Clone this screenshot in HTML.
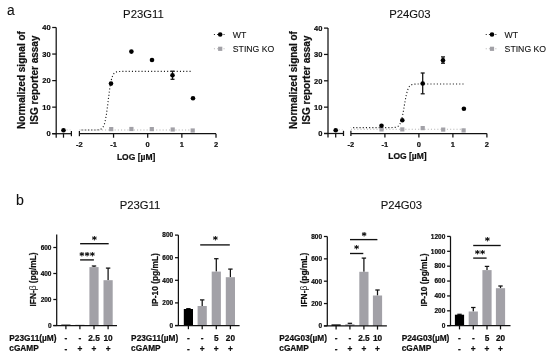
<!DOCTYPE html>
<html><head><meta charset="utf-8"><title>Figure</title>
<style>html,body{margin:0;padding:0;background:#fff;width:550px;height:362px;overflow:hidden}svg{display:block;filter:blur(0.25px)}text{stroke:#111;stroke-width:0.1px;stroke-linejoin:round}text[font-weight="bold"]{stroke:#000;stroke-width:0.2px}</style>
</head><body>
<svg width="550" height="362" viewBox="0 0 550 362" font-family='"Liberation Sans", Arial, sans-serif'>
<rect width="550" height="362" fill="#fff"/>
<text x="7.10" y="14.80" font-size="13.8" font-weight="normal" text-anchor="start" fill="#111" >a</text>
<text x="15.90" y="204.70" font-size="14.2" font-weight="normal" text-anchor="start" fill="#111" >b</text>
<line x1="56.20" y1="27.50" x2="56.20" y2="137.70" stroke="#111" stroke-width="1.25" />
<line x1="52.20" y1="133.70" x2="56.20" y2="133.70" stroke="#111" stroke-width="1.25" />
<text x="50.60" y="136.40" font-size="7.5" font-weight="bold" text-anchor="end" fill="#111" >0</text>
<line x1="52.20" y1="107.15" x2="56.20" y2="107.15" stroke="#111" stroke-width="1.25" />
<text x="50.60" y="109.85" font-size="7.5" font-weight="bold" text-anchor="end" fill="#111" >10</text>
<line x1="52.20" y1="80.60" x2="56.20" y2="80.60" stroke="#111" stroke-width="1.25" />
<text x="50.60" y="83.30" font-size="7.5" font-weight="bold" text-anchor="end" fill="#111" >20</text>
<line x1="52.20" y1="54.05" x2="56.20" y2="54.05" stroke="#111" stroke-width="1.25" />
<text x="50.60" y="56.75" font-size="7.5" font-weight="bold" text-anchor="end" fill="#111" >30</text>
<line x1="52.20" y1="27.50" x2="56.20" y2="27.50" stroke="#111" stroke-width="1.25" />
<text x="50.60" y="30.20" font-size="7.5" font-weight="bold" text-anchor="end" fill="#111" >40</text>
<line x1="52.20" y1="133.70" x2="71.40" y2="133.70" stroke="#111" stroke-width="1.25" />
<line x1="63.50" y1="133.70" x2="63.50" y2="137.70" stroke="#111" stroke-width="1.25" />
<line x1="71.40" y1="131.00" x2="71.40" y2="136.20" stroke="#111" stroke-width="1.25" />
<line x1="79.40" y1="133.70" x2="216.00" y2="133.70" stroke="#111" stroke-width="1.25" />
<line x1="79.40" y1="131.00" x2="79.40" y2="136.20" stroke="#111" stroke-width="1.25" />
<text x="79.40" y="147.30" font-size="7.5" font-weight="bold" text-anchor="middle" fill="#111" >-2</text>
<line x1="113.55" y1="133.70" x2="113.55" y2="137.70" stroke="#111" stroke-width="1.25" />
<text x="113.55" y="147.30" font-size="7.5" font-weight="bold" text-anchor="middle" fill="#111" >-1</text>
<line x1="147.70" y1="133.70" x2="147.70" y2="137.70" stroke="#111" stroke-width="1.25" />
<text x="147.70" y="147.30" font-size="7.5" font-weight="bold" text-anchor="middle" fill="#111" >0</text>
<line x1="181.85" y1="133.70" x2="181.85" y2="137.70" stroke="#111" stroke-width="1.25" />
<text x="181.85" y="147.30" font-size="7.5" font-weight="bold" text-anchor="middle" fill="#111" >1</text>
<line x1="216.00" y1="133.70" x2="216.00" y2="137.70" stroke="#111" stroke-width="1.25" />
<text x="216.00" y="147.30" font-size="7.5" font-weight="bold" text-anchor="middle" fill="#111" >2</text>
<text x="136.10" y="159.50" font-size="8.5" font-weight="bold" text-anchor="middle" fill="#111" >LOG [µM]</text>
<text transform="translate(25.00,80.00) rotate(-90)" font-size="10" font-weight="bold" text-anchor="middle" fill="#111">Normalized signal of</text>
<text transform="translate(38.00,80.00) rotate(-90)" font-size="10" font-weight="bold" text-anchor="middle" fill="#111">ISG reporter assay</text>
<text x="123.10" y="17.60" font-size="11.3" font-weight="normal" text-anchor="start" fill="#111" >P23G11</text>
<line x1="213.90" y1="34.5" x2="224.80" y2="34.5" stroke="#333" stroke-width="1.1" stroke-dasharray="1.1 2.1"/>
<circle cx="220.20" cy="34.50" r="2.3" fill="#000"/>
<line x1="213.90" y1="48.8" x2="224.80" y2="48.8" stroke="#bbb" stroke-width="1.1" stroke-dasharray="1.1 2.1"/>
<rect x="218.10" y="46.70" width="4.2" height="4.2" fill="#a2a1a7"/>
<text x="232.80" y="37.60" font-size="8.7" font-weight="normal" text-anchor="start" fill="#111" >WT</text>
<text x="232.80" y="51.80" font-size="8.7" font-weight="normal" text-anchor="start" fill="#111" >STING KO</text>
<line x1="79.40" y1="130.00" x2="191.00" y2="130.00" stroke="#b5b5b5" stroke-width="1.1" stroke-dasharray="1.1 2.1"/>
<path d="M79.40,130.00 L80.33,130.00 L81.26,130.00 L82.19,130.00 L83.12,130.00 L84.05,130.00 L84.98,130.00 L85.91,130.00 L86.84,130.00 L87.77,130.00 L88.70,130.00 L89.63,130.00 L90.56,130.00 L91.49,130.00 L92.42,129.99 L93.35,129.99 L94.28,129.98 L95.21,129.97 L96.14,129.94 L97.07,129.90 L98.00,129.83 L98.93,129.71 L99.86,129.51 L100.79,129.16 L101.72,128.59 L102.65,127.64 L103.58,126.10 L104.51,123.66 L105.44,119.97 L106.37,114.76 L107.30,108.07 L108.23,100.45 L109.16,92.86 L110.09,86.26 L111.02,81.15 L111.95,77.55 L112.88,75.18 L113.81,73.68 L114.74,72.76 L115.67,72.21 L116.60,71.88 L117.53,71.68 L118.46,71.57 L119.39,71.50 L120.32,71.46 L121.25,71.43 L122.18,71.42 L123.11,71.41 L124.04,71.41 L124.97,71.40 L125.90,71.40 L126.83,71.40 L127.76,71.40 L128.69,71.40 L129.62,71.40 L130.55,71.40 L131.48,71.40 L132.41,71.40 L133.34,71.40 L134.27,71.40 L135.20,71.40 L136.13,71.40 L137.06,71.40 L137.99,71.40 L138.92,71.40 L139.85,71.40 L140.78,71.40 L141.71,71.40 L142.64,71.40 L143.57,71.40 L144.50,71.40 L145.43,71.40 L146.36,71.40 L147.29,71.40 L148.22,71.40 L149.15,71.40 L150.08,71.40 L151.01,71.40 L151.94,71.40 L152.87,71.40 L153.80,71.40 L154.73,71.40 L155.66,71.40 L156.59,71.40 L157.52,71.40 L158.45,71.40 L159.38,71.40 L160.31,71.40 L161.24,71.40 L162.17,71.40 L163.10,71.40 L164.03,71.40 L164.96,71.40 L165.89,71.40 L166.82,71.40 L167.75,71.40 L168.68,71.40 L169.61,71.40 L170.54,71.40 L171.47,71.40 L172.40,71.40 L173.33,71.40 L174.26,71.40 L175.19,71.40 L176.12,71.40 L177.05,71.40 L177.98,71.40 L178.91,71.40 L179.84,71.40 L180.77,71.40 L181.70,71.40 L182.63,71.40 L183.56,71.40 L184.49,71.40 L185.42,71.40 L186.35,71.40 L187.28,71.40 L188.21,71.40 L189.14,71.40 L190.07,71.40 L191.00,71.40" fill="none" stroke="#222" stroke-width="1.15" stroke-dasharray="1.1 2.1" stroke-dashoffset="1.1"/>
<rect x="109.10" y="127.00" width="4.2" height="4.2" fill="#a2a1a7"/>
<rect x="129.30" y="126.90" width="4.2" height="4.2" fill="#a2a1a7"/>
<rect x="149.70" y="127.00" width="4.2" height="4.2" fill="#a2a1a7"/>
<rect x="170.60" y="127.40" width="4.2" height="4.2" fill="#a2a1a7"/>
<rect x="190.60" y="128.40" width="4.2" height="4.2" fill="#a2a1a7"/>
<line x1="172.50" y1="71.20" x2="172.50" y2="79.30" stroke="#111" stroke-width="1.25" />
<line x1="170.50" y1="71.20" x2="174.50" y2="71.20" stroke="#111" stroke-width="1.25" />
<line x1="170.50" y1="79.30" x2="174.50" y2="79.30" stroke="#111" stroke-width="1.25" />
<circle cx="111.00" cy="83.60" r="2.3" fill="#000"/>
<circle cx="131.40" cy="51.60" r="2.3" fill="#000"/>
<circle cx="152.00" cy="60.00" r="2.3" fill="#000"/>
<circle cx="172.50" cy="75.20" r="2.3" fill="#000"/>
<circle cx="193.00" cy="98.30" r="2.3" fill="#000"/>
<line x1="66.50" y1="129.90" x2="70.40" y2="129.90" stroke="#ccc" stroke-width="1.1" stroke-dasharray="1.1 2.1"/>
<circle cx="63.50" cy="130.30" r="2.3" fill="#000"/>
<line x1="328.00" y1="28.10" x2="328.00" y2="137.50" stroke="#111" stroke-width="1.25" />
<line x1="324.00" y1="133.50" x2="328.00" y2="133.50" stroke="#111" stroke-width="1.25" />
<text x="322.40" y="136.20" font-size="7.5" font-weight="bold" text-anchor="end" fill="#111" >0</text>
<line x1="324.00" y1="107.15" x2="328.00" y2="107.15" stroke="#111" stroke-width="1.25" />
<text x="322.40" y="109.85" font-size="7.5" font-weight="bold" text-anchor="end" fill="#111" >10</text>
<line x1="324.00" y1="80.80" x2="328.00" y2="80.80" stroke="#111" stroke-width="1.25" />
<text x="322.40" y="83.50" font-size="7.5" font-weight="bold" text-anchor="end" fill="#111" >20</text>
<line x1="324.00" y1="54.45" x2="328.00" y2="54.45" stroke="#111" stroke-width="1.25" />
<text x="322.40" y="57.15" font-size="7.5" font-weight="bold" text-anchor="end" fill="#111" >30</text>
<line x1="324.00" y1="28.10" x2="328.00" y2="28.10" stroke="#111" stroke-width="1.25" />
<text x="322.40" y="30.80" font-size="7.5" font-weight="bold" text-anchor="end" fill="#111" >40</text>
<line x1="324.00" y1="133.50" x2="343.50" y2="133.50" stroke="#111" stroke-width="1.25" />
<line x1="335.70" y1="133.50" x2="335.70" y2="137.50" stroke="#111" stroke-width="1.25" />
<line x1="343.50" y1="130.80" x2="343.50" y2="136.00" stroke="#111" stroke-width="1.25" />
<line x1="350.90" y1="133.50" x2="486.90" y2="133.50" stroke="#111" stroke-width="1.25" />
<line x1="350.90" y1="130.80" x2="350.90" y2="136.00" stroke="#111" stroke-width="1.25" />
<text x="350.90" y="147.10" font-size="7.5" font-weight="bold" text-anchor="middle" fill="#111" >-2</text>
<line x1="384.90" y1="133.50" x2="384.90" y2="137.50" stroke="#111" stroke-width="1.25" />
<text x="384.90" y="147.10" font-size="7.5" font-weight="bold" text-anchor="middle" fill="#111" >-1</text>
<line x1="418.90" y1="133.50" x2="418.90" y2="137.50" stroke="#111" stroke-width="1.25" />
<text x="418.90" y="147.10" font-size="7.5" font-weight="bold" text-anchor="middle" fill="#111" >0</text>
<line x1="452.90" y1="133.50" x2="452.90" y2="137.50" stroke="#111" stroke-width="1.25" />
<text x="452.90" y="147.10" font-size="7.5" font-weight="bold" text-anchor="middle" fill="#111" >1</text>
<line x1="486.90" y1="133.50" x2="486.90" y2="137.50" stroke="#111" stroke-width="1.25" />
<text x="486.90" y="147.10" font-size="7.5" font-weight="bold" text-anchor="middle" fill="#111" >2</text>
<text x="407.45" y="159.30" font-size="8.5" font-weight="bold" text-anchor="middle" fill="#111" >LOG [µM]</text>
<text transform="translate(296.80,80.00) rotate(-90)" font-size="10" font-weight="bold" text-anchor="middle" fill="#111">Normalized signal of</text>
<text transform="translate(309.80,80.00) rotate(-90)" font-size="10" font-weight="bold" text-anchor="middle" fill="#111">ISG reporter assay</text>
<text x="389.20" y="17.60" font-size="11.3" font-weight="normal" text-anchor="start" fill="#111" >P24G03</text>
<line x1="485.70" y1="34.5" x2="496.60" y2="34.5" stroke="#333" stroke-width="1.1" stroke-dasharray="1.1 2.1"/>
<circle cx="492.00" cy="34.50" r="2.3" fill="#000"/>
<line x1="485.70" y1="48.8" x2="496.60" y2="48.8" stroke="#bbb" stroke-width="1.1" stroke-dasharray="1.1 2.1"/>
<rect x="489.90" y="46.70" width="4.2" height="4.2" fill="#a2a1a7"/>
<text x="504.60" y="37.60" font-size="8.7" font-weight="normal" text-anchor="start" fill="#111" >WT</text>
<text x="504.60" y="51.80" font-size="8.7" font-weight="normal" text-anchor="start" fill="#111" >STING KO</text>
<line x1="350.90" y1="129.30" x2="464.20" y2="129.30" stroke="#b5b5b5" stroke-width="1.1" stroke-dasharray="1.1 2.1"/>
<path d="M350.90,127.60 L351.84,127.60 L352.79,127.60 L353.73,127.60 L354.68,127.60 L355.62,127.60 L356.56,127.60 L357.51,127.60 L358.45,127.60 L359.40,127.60 L360.34,127.60 L361.29,127.60 L362.23,127.60 L363.17,127.60 L364.12,127.60 L365.06,127.60 L366.01,127.60 L366.95,127.60 L367.89,127.60 L368.84,127.60 L369.78,127.60 L370.73,127.60 L371.67,127.60 L372.62,127.60 L373.56,127.60 L374.50,127.60 L375.45,127.60 L376.39,127.60 L377.34,127.60 L378.28,127.60 L379.22,127.60 L380.17,127.60 L381.11,127.60 L382.06,127.60 L383.00,127.60 L383.95,127.60 L384.89,127.60 L385.83,127.60 L386.78,127.60 L387.72,127.60 L388.67,127.59 L389.61,127.59 L390.55,127.58 L391.50,127.56 L392.44,127.54 L393.39,127.50 L394.33,127.43 L395.28,127.31 L396.22,127.12 L397.16,126.79 L398.11,126.25 L399.05,125.36 L400.00,123.94 L400.94,121.76 L401.88,118.56 L402.83,114.24 L403.77,108.97 L404.72,103.28 L405.66,97.93 L406.61,93.48 L407.55,90.16 L408.49,87.87 L409.44,86.37 L410.38,85.44 L411.33,84.86 L412.27,84.51 L413.21,84.31 L414.16,84.18 L415.10,84.11 L416.05,84.06 L416.99,84.04 L417.94,84.02 L418.88,84.01 L419.82,84.01 L420.77,84.00 L421.71,84.00 L422.66,84.00 L423.60,84.00 L424.54,84.00 L425.49,84.00 L426.43,84.00 L427.38,84.00 L428.32,84.00 L429.27,84.00 L430.21,84.00 L431.15,84.00 L432.10,84.00 L433.04,84.00 L433.99,84.00 L434.93,84.00 L435.88,84.00 L436.82,84.00 L437.76,84.00 L438.71,84.00 L439.65,84.00 L440.60,84.00 L441.54,84.00 L442.48,84.00 L443.43,84.00 L444.37,84.00 L445.32,84.00 L446.26,84.00 L447.20,84.00 L448.15,84.00 L449.09,84.00 L450.04,84.00 L450.98,84.00 L451.93,84.00 L452.87,84.00 L453.81,84.00 L454.76,84.00 L455.70,84.00 L456.65,84.00 L457.59,84.00 L458.53,84.00 L459.48,84.00 L460.42,84.00 L461.37,84.00 L462.31,84.00 L463.26,84.00 L464.20,84.00" fill="none" stroke="#222" stroke-width="1.15" stroke-dasharray="1.1 2.1" stroke-dashoffset="1.0"/>
<rect x="379.40" y="127.30" width="4.2" height="4.2" fill="#a2a1a7"/>
<rect x="400.20" y="127.30" width="4.2" height="4.2" fill="#a2a1a7"/>
<rect x="420.60" y="126.00" width="4.2" height="4.2" fill="#a2a1a7"/>
<rect x="441.10" y="127.50" width="4.2" height="4.2" fill="#a2a1a7"/>
<rect x="461.50" y="128.30" width="4.2" height="4.2" fill="#a2a1a7"/>
<line x1="422.70" y1="73.00" x2="422.70" y2="93.80" stroke="#111" stroke-width="1.25" />
<line x1="420.70" y1="73.00" x2="424.70" y2="73.00" stroke="#111" stroke-width="1.25" />
<line x1="420.70" y1="93.80" x2="424.70" y2="93.80" stroke="#111" stroke-width="1.25" />
<line x1="443.00" y1="56.90" x2="443.00" y2="63.20" stroke="#111" stroke-width="1.25" />
<line x1="441.00" y1="56.90" x2="445.00" y2="56.90" stroke="#111" stroke-width="1.25" />
<line x1="441.00" y1="63.20" x2="445.00" y2="63.20" stroke="#111" stroke-width="1.25" />
<circle cx="381.50" cy="125.80" r="2.3" fill="#000"/>
<circle cx="402.30" cy="120.20" r="2.3" fill="#000"/>
<circle cx="422.70" cy="83.50" r="2.3" fill="#000"/>
<circle cx="443.00" cy="60.20" r="2.3" fill="#000"/>
<circle cx="463.90" cy="108.80" r="2.3" fill="#000"/>
<line x1="338.70" y1="129.80" x2="342.50" y2="129.80" stroke="#ccc" stroke-width="1.1" stroke-dasharray="1.1 2.1"/>
<circle cx="335.70" cy="130.20" r="2.3" fill="#000"/>
<text x="119.70" y="208.60" font-size="11.3" font-weight="normal" text-anchor="start" fill="#111" >P23G11</text>
<text x="380.70" y="208.60" font-size="11.3" font-weight="normal" text-anchor="start" fill="#111" >P24G03</text>
<line x1="56.70" y1="234.50" x2="56.70" y2="325.50" stroke="#111" stroke-width="1.25" />
<line x1="53.30" y1="325.50" x2="56.70" y2="325.50" stroke="#111" stroke-width="1.25" />
<text x="51.50" y="327.80" font-size="6.5" font-weight="bold" text-anchor="end" fill="#111" >0</text>
<line x1="53.30" y1="299.50" x2="56.70" y2="299.50" stroke="#111" stroke-width="1.25" />
<text x="51.50" y="301.80" font-size="6.5" font-weight="bold" text-anchor="end" fill="#111" >200</text>
<line x1="53.30" y1="273.50" x2="56.70" y2="273.50" stroke="#111" stroke-width="1.25" />
<text x="51.50" y="275.80" font-size="6.5" font-weight="bold" text-anchor="end" fill="#111" >400</text>
<line x1="53.30" y1="247.50" x2="56.70" y2="247.50" stroke="#111" stroke-width="1.25" />
<text x="51.50" y="249.80" font-size="6.5" font-weight="bold" text-anchor="end" fill="#111" >600</text>
<rect x="61.30" y="324.60" width="9.2" height="0.90" fill="#000"/>
<rect x="75.30" y="324.70" width="9.2" height="0.80" fill="#a2a1a7"/>
<line x1="94.00" y1="267.10" x2="94.00" y2="266.00" stroke="#111" stroke-width="1.25" />
<line x1="91.80" y1="266.00" x2="96.20" y2="266.00" stroke="#111" stroke-width="1.25" />
<rect x="89.40" y="267.10" width="9.2" height="58.40" fill="#a2a1a7"/>
<line x1="108.10" y1="280.20" x2="108.10" y2="268.10" stroke="#111" stroke-width="1.25" />
<line x1="105.90" y1="268.10" x2="110.30" y2="268.10" stroke="#111" stroke-width="1.25" />
<rect x="103.50" y="280.20" width="9.2" height="45.30" fill="#a2a1a7"/>
<line x1="53.30" y1="325.50" x2="117.00" y2="325.50" stroke="#111" stroke-width="1.25" />
<line x1="65.90" y1="325.50" x2="65.90" y2="329.20" stroke="#111" stroke-width="1.25" />
<line x1="79.90" y1="325.50" x2="79.90" y2="329.20" stroke="#111" stroke-width="1.25" />
<line x1="94.00" y1="325.50" x2="94.00" y2="329.20" stroke="#111" stroke-width="1.25" />
<line x1="108.10" y1="325.50" x2="108.10" y2="329.20" stroke="#111" stroke-width="1.25" />
<text transform="translate(35.60,279.50) rotate(-90)" font-size="8.4" font-weight="bold" text-anchor="middle" fill="#111">IFN-<tspan font-weight="normal" style="stroke:none">β</tspan> (pg/mL)</text>
<line x1="80.10" y1="243.70" x2="108.70" y2="243.70" stroke="#111" stroke-width="1.35" />
<text x="92.00" y="242.70" font-family="DejaVu Sans" font-size="9" font-weight="bold" letter-spacing="0.6" fill="#000">*</text>
<line x1="80.10" y1="259.90" x2="93.90" y2="259.90" stroke="#111" stroke-width="1.35" />
<text x="79.40" y="258.70" font-family="DejaVu Sans" font-size="9" font-weight="bold" letter-spacing="0.6" fill="#000">***</text>
<text x="9.30" y="340.60" font-size="8.3" font-weight="bold" text-anchor="start" fill="#111" >P23G11(µM)</text>
<text x="9.30" y="351.20" font-size="8.3" font-weight="bold" text-anchor="start" fill="#111" >cGAMP</text>
<text x="65.90" y="340.60" font-size="8.3" font-weight="bold" text-anchor="middle" fill="#111" >-</text>
<text x="79.90" y="340.60" font-size="8.3" font-weight="bold" text-anchor="middle" fill="#111" >-</text>
<text x="94.00" y="340.60" font-size="8.3" font-weight="bold" text-anchor="middle" fill="#111" >2.5</text>
<text x="108.10" y="340.60" font-size="8.3" font-weight="bold" text-anchor="middle" fill="#111" >10</text>
<text x="65.90" y="352.40" font-size="8.3" font-weight="bold" text-anchor="middle" fill="#111" >-</text>
<text x="79.90" y="352.40" font-size="8.3" font-weight="bold" text-anchor="middle" fill="#111" >+</text>
<text x="94.00" y="352.40" font-size="8.3" font-weight="bold" text-anchor="middle" fill="#111" >+</text>
<text x="108.10" y="352.40" font-size="8.3" font-weight="bold" text-anchor="middle" fill="#111" >+</text>
<line x1="178.40" y1="235.10" x2="178.40" y2="325.50" stroke="#111" stroke-width="1.25" />
<line x1="175.00" y1="325.50" x2="178.40" y2="325.50" stroke="#111" stroke-width="1.25" />
<text x="173.20" y="327.80" font-size="6.5" font-weight="bold" text-anchor="end" fill="#111" >0</text>
<line x1="175.00" y1="302.90" x2="178.40" y2="302.90" stroke="#111" stroke-width="1.25" />
<text x="173.20" y="305.20" font-size="6.5" font-weight="bold" text-anchor="end" fill="#111" >200</text>
<line x1="175.00" y1="280.30" x2="178.40" y2="280.30" stroke="#111" stroke-width="1.25" />
<text x="173.20" y="282.60" font-size="6.5" font-weight="bold" text-anchor="end" fill="#111" >400</text>
<line x1="175.00" y1="257.70" x2="178.40" y2="257.70" stroke="#111" stroke-width="1.25" />
<text x="173.20" y="260.00" font-size="6.5" font-weight="bold" text-anchor="end" fill="#111" >600</text>
<line x1="175.00" y1="235.10" x2="178.40" y2="235.10" stroke="#111" stroke-width="1.25" />
<text x="173.20" y="237.40" font-size="6.5" font-weight="bold" text-anchor="end" fill="#111" >800</text>
<line x1="188.40" y1="309.00" x2="188.40" y2="308.60" stroke="#111" stroke-width="1.25" />
<line x1="186.20" y1="308.60" x2="190.60" y2="308.60" stroke="#111" stroke-width="1.25" />
<rect x="183.80" y="309.00" width="9.2" height="16.50" fill="#000"/>
<line x1="202.20" y1="306.00" x2="202.20" y2="299.90" stroke="#111" stroke-width="1.25" />
<line x1="200.00" y1="299.90" x2="204.40" y2="299.90" stroke="#111" stroke-width="1.25" />
<rect x="197.60" y="306.00" width="9.2" height="19.50" fill="#a2a1a7"/>
<line x1="216.30" y1="271.60" x2="216.30" y2="258.70" stroke="#111" stroke-width="1.25" />
<line x1="214.10" y1="258.70" x2="218.50" y2="258.70" stroke="#111" stroke-width="1.25" />
<rect x="211.70" y="271.60" width="9.2" height="53.90" fill="#a2a1a7"/>
<line x1="230.40" y1="277.20" x2="230.40" y2="269.10" stroke="#111" stroke-width="1.25" />
<line x1="228.20" y1="269.10" x2="232.60" y2="269.10" stroke="#111" stroke-width="1.25" />
<rect x="225.80" y="277.20" width="9.2" height="48.30" fill="#a2a1a7"/>
<line x1="175.00" y1="325.50" x2="239.60" y2="325.50" stroke="#111" stroke-width="1.25" />
<line x1="188.40" y1="325.50" x2="188.40" y2="329.20" stroke="#111" stroke-width="1.25" />
<line x1="202.20" y1="325.50" x2="202.20" y2="329.20" stroke="#111" stroke-width="1.25" />
<line x1="216.30" y1="325.50" x2="216.30" y2="329.20" stroke="#111" stroke-width="1.25" />
<line x1="230.40" y1="325.50" x2="230.40" y2="329.20" stroke="#111" stroke-width="1.25" />
<text transform="translate(157.50,279.70) rotate(-90)" font-size="8.4" font-weight="bold" text-anchor="middle" fill="#111">IP-10 (pg/mL)</text>
<line x1="200.20" y1="244.90" x2="229.80" y2="244.90" stroke="#111" stroke-width="1.35" />
<text x="213.00" y="243.40" font-family="DejaVu Sans" font-size="9" font-weight="bold" letter-spacing="0.6" fill="#000">*</text>
<text x="131.10" y="340.60" font-size="8.3" font-weight="bold" text-anchor="start" fill="#111" >P23G11(µM)</text>
<text x="131.10" y="351.20" font-size="8.3" font-weight="bold" text-anchor="start" fill="#111" >cGAMP</text>
<text x="188.40" y="340.60" font-size="8.3" font-weight="bold" text-anchor="middle" fill="#111" >-</text>
<text x="202.20" y="340.60" font-size="8.3" font-weight="bold" text-anchor="middle" fill="#111" >-</text>
<text x="216.30" y="340.60" font-size="8.3" font-weight="bold" text-anchor="middle" fill="#111" >5</text>
<text x="230.40" y="340.60" font-size="8.3" font-weight="bold" text-anchor="middle" fill="#111" >20</text>
<text x="188.40" y="352.40" font-size="8.3" font-weight="bold" text-anchor="middle" fill="#111" >-</text>
<text x="202.20" y="352.40" font-size="8.3" font-weight="bold" text-anchor="middle" fill="#111" >+</text>
<text x="216.30" y="352.40" font-size="8.3" font-weight="bold" text-anchor="middle" fill="#111" >+</text>
<text x="230.40" y="352.40" font-size="8.3" font-weight="bold" text-anchor="middle" fill="#111" >+</text>
<line x1="327.30" y1="236.50" x2="327.30" y2="325.90" stroke="#111" stroke-width="1.25" />
<line x1="323.90" y1="325.90" x2="327.30" y2="325.90" stroke="#111" stroke-width="1.25" />
<text x="322.10" y="328.20" font-size="6.5" font-weight="bold" text-anchor="end" fill="#111" >0</text>
<line x1="323.90" y1="303.55" x2="327.30" y2="303.55" stroke="#111" stroke-width="1.25" />
<text x="322.10" y="305.85" font-size="6.5" font-weight="bold" text-anchor="end" fill="#111" >200</text>
<line x1="323.90" y1="281.20" x2="327.30" y2="281.20" stroke="#111" stroke-width="1.25" />
<text x="322.10" y="283.50" font-size="6.5" font-weight="bold" text-anchor="end" fill="#111" >400</text>
<line x1="323.90" y1="258.85" x2="327.30" y2="258.85" stroke="#111" stroke-width="1.25" />
<text x="322.10" y="261.15" font-size="6.5" font-weight="bold" text-anchor="end" fill="#111" >600</text>
<line x1="323.90" y1="236.50" x2="327.30" y2="236.50" stroke="#111" stroke-width="1.25" />
<text x="322.10" y="238.80" font-size="6.5" font-weight="bold" text-anchor="end" fill="#111" >800</text>
<rect x="331.50" y="324.40" width="9.2" height="1.50" fill="#000"/>
<line x1="349.90" y1="324.20" x2="349.90" y2="323.30" stroke="#111" stroke-width="1.25" />
<line x1="347.70" y1="323.30" x2="352.10" y2="323.30" stroke="#111" stroke-width="1.25" />
<rect x="345.30" y="324.20" width="9.2" height="1.70" fill="#a2a1a7"/>
<line x1="363.90" y1="271.80" x2="363.90" y2="258.10" stroke="#111" stroke-width="1.25" />
<line x1="361.70" y1="258.10" x2="366.10" y2="258.10" stroke="#111" stroke-width="1.25" />
<rect x="359.30" y="271.80" width="9.2" height="54.10" fill="#a2a1a7"/>
<line x1="377.50" y1="295.50" x2="377.50" y2="290.00" stroke="#111" stroke-width="1.25" />
<line x1="375.30" y1="290.00" x2="379.70" y2="290.00" stroke="#111" stroke-width="1.25" />
<rect x="372.90" y="295.50" width="9.2" height="30.40" fill="#a2a1a7"/>
<line x1="323.90" y1="325.90" x2="386.90" y2="325.90" stroke="#111" stroke-width="1.25" />
<line x1="336.10" y1="325.90" x2="336.10" y2="329.60" stroke="#111" stroke-width="1.25" />
<line x1="349.90" y1="325.90" x2="349.90" y2="329.60" stroke="#111" stroke-width="1.25" />
<line x1="363.90" y1="325.90" x2="363.90" y2="329.60" stroke="#111" stroke-width="1.25" />
<line x1="377.50" y1="325.90" x2="377.50" y2="329.60" stroke="#111" stroke-width="1.25" />
<text transform="translate(307.10,279.80) rotate(-90)" font-size="8.4" font-weight="bold" text-anchor="middle" fill="#111">IFN-<tspan font-weight="normal" style="stroke:none">β</tspan> (pg/mL)</text>
<line x1="350.00" y1="239.60" x2="377.40" y2="239.60" stroke="#111" stroke-width="1.35" />
<text x="361.70" y="238.50" font-family="DejaVu Sans" font-size="9" font-weight="bold" letter-spacing="0.6" fill="#000">*</text>
<line x1="350.00" y1="253.50" x2="363.30" y2="253.50" stroke="#111" stroke-width="1.35" />
<text x="354.30" y="252.20" font-family="DejaVu Sans" font-size="9" font-weight="bold" letter-spacing="0.6" fill="#000">*</text>
<text x="279.30" y="340.60" font-size="8.3" font-weight="bold" text-anchor="start" fill="#111" >P24G03(µM)</text>
<text x="279.30" y="351.20" font-size="8.3" font-weight="bold" text-anchor="start" fill="#111" >cGAMP</text>
<text x="336.10" y="340.60" font-size="8.3" font-weight="bold" text-anchor="middle" fill="#111" >-</text>
<text x="349.90" y="340.60" font-size="8.3" font-weight="bold" text-anchor="middle" fill="#111" >-</text>
<text x="363.90" y="340.60" font-size="8.3" font-weight="bold" text-anchor="middle" fill="#111" >2.5</text>
<text x="377.50" y="340.60" font-size="8.3" font-weight="bold" text-anchor="middle" fill="#111" >10</text>
<text x="336.10" y="352.40" font-size="8.3" font-weight="bold" text-anchor="middle" fill="#111" >-</text>
<text x="349.90" y="352.40" font-size="8.3" font-weight="bold" text-anchor="middle" fill="#111" >+</text>
<text x="363.90" y="352.40" font-size="8.3" font-weight="bold" text-anchor="middle" fill="#111" >+</text>
<text x="377.50" y="352.40" font-size="8.3" font-weight="bold" text-anchor="middle" fill="#111" >+</text>
<line x1="450.50" y1="236.42" x2="450.50" y2="325.70" stroke="#111" stroke-width="1.25" />
<line x1="447.10" y1="325.70" x2="450.50" y2="325.70" stroke="#111" stroke-width="1.25" />
<text x="445.30" y="328.00" font-size="6.5" font-weight="bold" text-anchor="end" fill="#111" >0</text>
<line x1="447.10" y1="310.82" x2="450.50" y2="310.82" stroke="#111" stroke-width="1.25" />
<text x="445.30" y="313.12" font-size="6.5" font-weight="bold" text-anchor="end" fill="#111" >200</text>
<line x1="447.10" y1="295.94" x2="450.50" y2="295.94" stroke="#111" stroke-width="1.25" />
<text x="445.30" y="298.24" font-size="6.5" font-weight="bold" text-anchor="end" fill="#111" >400</text>
<line x1="447.10" y1="281.06" x2="450.50" y2="281.06" stroke="#111" stroke-width="1.25" />
<text x="445.30" y="283.36" font-size="6.5" font-weight="bold" text-anchor="end" fill="#111" >600</text>
<line x1="447.10" y1="266.18" x2="450.50" y2="266.18" stroke="#111" stroke-width="1.25" />
<text x="445.30" y="268.48" font-size="6.5" font-weight="bold" text-anchor="end" fill="#111" >800</text>
<line x1="447.10" y1="251.30" x2="450.50" y2="251.30" stroke="#111" stroke-width="1.25" />
<text x="445.30" y="253.60" font-size="6.5" font-weight="bold" text-anchor="end" fill="#111" >1000</text>
<line x1="447.10" y1="236.42" x2="450.50" y2="236.42" stroke="#111" stroke-width="1.25" />
<text x="445.30" y="238.72" font-size="6.5" font-weight="bold" text-anchor="end" fill="#111" >1200</text>
<line x1="459.50" y1="314.70" x2="459.50" y2="314.30" stroke="#111" stroke-width="1.25" />
<line x1="457.30" y1="314.30" x2="461.70" y2="314.30" stroke="#111" stroke-width="1.25" />
<rect x="454.90" y="314.70" width="9.2" height="11.00" fill="#000"/>
<line x1="473.30" y1="311.50" x2="473.30" y2="307.50" stroke="#111" stroke-width="1.25" />
<line x1="471.10" y1="307.50" x2="475.50" y2="307.50" stroke="#111" stroke-width="1.25" />
<rect x="468.70" y="311.50" width="9.2" height="14.20" fill="#a2a1a7"/>
<line x1="487.00" y1="270.10" x2="487.00" y2="266.40" stroke="#111" stroke-width="1.25" />
<line x1="484.80" y1="266.40" x2="489.20" y2="266.40" stroke="#111" stroke-width="1.25" />
<rect x="482.40" y="270.10" width="9.2" height="55.60" fill="#a2a1a7"/>
<line x1="500.50" y1="288.20" x2="500.50" y2="286.00" stroke="#111" stroke-width="1.25" />
<line x1="498.30" y1="286.00" x2="502.70" y2="286.00" stroke="#111" stroke-width="1.25" />
<rect x="495.90" y="288.20" width="9.2" height="37.50" fill="#a2a1a7"/>
<line x1="447.10" y1="325.70" x2="510.50" y2="325.70" stroke="#111" stroke-width="1.25" />
<line x1="459.50" y1="325.70" x2="459.50" y2="329.40" stroke="#111" stroke-width="1.25" />
<line x1="473.30" y1="325.70" x2="473.30" y2="329.40" stroke="#111" stroke-width="1.25" />
<line x1="487.00" y1="325.70" x2="487.00" y2="329.40" stroke="#111" stroke-width="1.25" />
<line x1="500.50" y1="325.70" x2="500.50" y2="329.40" stroke="#111" stroke-width="1.25" />
<text transform="translate(427.00,280.10) rotate(-90)" font-size="8.4" font-weight="bold" text-anchor="middle" fill="#111">IP-10 (pg/mL)</text>
<line x1="473.20" y1="245.50" x2="500.70" y2="245.50" stroke="#111" stroke-width="1.35" />
<text x="485.00" y="244.40" font-family="DejaVu Sans" font-size="9" font-weight="bold" letter-spacing="0.6" fill="#000">*</text>
<line x1="473.20" y1="258.10" x2="486.60" y2="258.10" stroke="#111" stroke-width="1.35" />
<text x="475.00" y="257.20" font-family="DejaVu Sans" font-size="9" font-weight="bold" letter-spacing="0.6" fill="#000">**</text>
<text x="401.70" y="340.60" font-size="8.3" font-weight="bold" text-anchor="start" fill="#111" >P24G03(µM)</text>
<text x="401.70" y="351.20" font-size="8.3" font-weight="bold" text-anchor="start" fill="#111" >cGAMP</text>
<text x="459.50" y="340.60" font-size="8.3" font-weight="bold" text-anchor="middle" fill="#111" >-</text>
<text x="473.30" y="340.60" font-size="8.3" font-weight="bold" text-anchor="middle" fill="#111" >-</text>
<text x="487.00" y="340.60" font-size="8.3" font-weight="bold" text-anchor="middle" fill="#111" >5</text>
<text x="500.50" y="340.60" font-size="8.3" font-weight="bold" text-anchor="middle" fill="#111" >20</text>
<text x="459.50" y="352.40" font-size="8.3" font-weight="bold" text-anchor="middle" fill="#111" >-</text>
<text x="473.30" y="352.40" font-size="8.3" font-weight="bold" text-anchor="middle" fill="#111" >+</text>
<text x="487.00" y="352.40" font-size="8.3" font-weight="bold" text-anchor="middle" fill="#111" >+</text>
<text x="500.50" y="352.40" font-size="8.3" font-weight="bold" text-anchor="middle" fill="#111" >+</text>
</svg>
</body></html>
